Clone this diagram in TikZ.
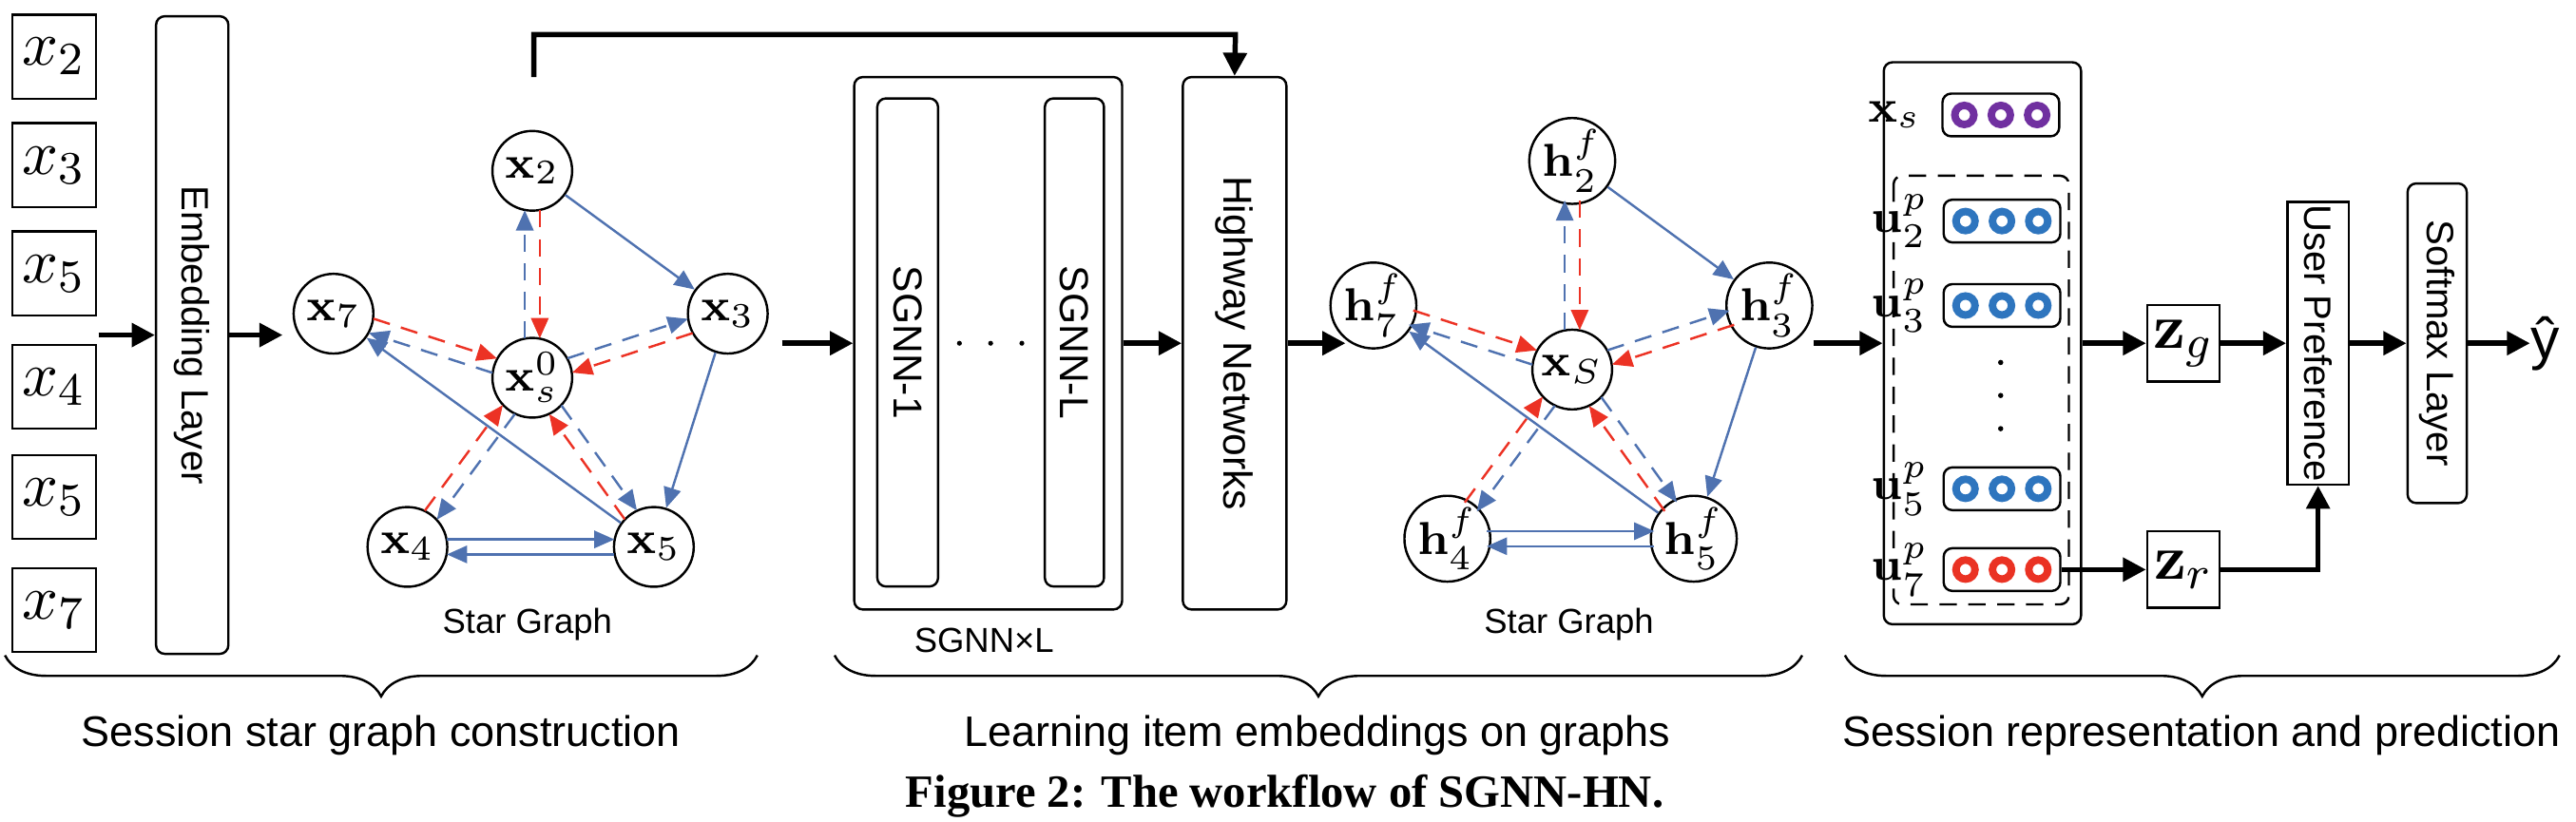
\documentclass[tikz,border=0pt]{standalone}
\usepackage[no-math]{fontspec}
\setmainfont{Liberation Sans}
\newfontfamily\capfont{Liberation Serif}
\usetikzlibrary{arrows.meta,calc,decorations.pathreplacing}

\definecolor{edgeblue}{RGB}{79,114,176}
\definecolor{edgered}{RGB}{236,50,36}
\definecolor{ringpurple}{RGB}{112,48,160}
\definecolor{ringblue}{RGB}{46,117,190}
\definecolor{ringred}{RGB}{234,50,35}

\tikzset{
    item/.style={draw, minimum width=0.51cm, minimum height=0.51cm, inner sep=0pt, font=\fontsize{11}{11}\selectfont},
    layer/.style={draw, rounded corners=1.5pt, inner sep=0pt, font=\fontsize{6}{6}\selectfont},
    plainbox/.style={draw, inner sep=0pt},
    vnode/.style={draw, circle, minimum size=0.485cm, inner sep=0pt, font=\fontsize{8.5}{8.5}\selectfont},
    flow/.style={-{Triangle[length=4pt,width=4pt]}, line width=0.9pt},
    bluearr/.style={edgeblue, densely dashed, line width=0.4pt, -{Triangle[length=3.5pt,width=3pt]}, shorten <=0.24cm, shorten >=0.24cm},
    redarr/.style={edgered, densely dashed, line width=0.4pt, -{Triangle[length=3.5pt,width=3pt]}, shorten <=0.24cm, shorten >=0.24cm},
    pairarr/.style={edgeblue, line width=0.4pt, -{Triangle[length=3.5pt,width=3pt]}, shorten <=0.24cm, shorten >=0.24cm},
    solidarr/.style={edgeblue, line width=0.4pt, -{Triangle[length=3.5pt,width=3pt]}},
    ring/.style={line width=1.3pt},
    bar/.style={draw, rounded corners=1.5pt, minimum width=0.71cm, minimum height=0.26cm, inner sep=0pt},
    grp/.style={decorate, decoration={brace, mirror, amplitude=0.25cm}, line width=0.4pt},
    grplabel/.style={font=\fontsize{7.4}{7.4}\selectfont},
    vlabel/.style={rotate=-90, font=\fontsize{6.6}{6.6}\selectfont},
    small/.style={font=\fontsize{6}{6}\selectfont},
}

% red: node -> centre, blue: centre -> node, side by side
\newcommand\starpair[2]{%
    \draw[redarr] ($(#2)!1.3pt!90:(#1)$) -- ($(#1)!1.3pt!-90:(#2)$);
    \draw[bluearr] ($(#1)!1.3pt!90:(#2)$) -- ($(#2)!1.3pt!-90:(#1)$);}
% three rings inside a bar
\newcommand\rings[2]{%
    \foreach \dx in {-22.2,0,22.1} {\draw[ring,#2] ($(#1)+(\dx,0)$) circle(0.058cm);}}

\begin{document}
\begin{tikzpicture}[x=0.01cm, y=-0.01cm]
    \useasboundingbox (0,0) rectangle (1568,500);

    %% Session star graph construction
    \node[item] (i1) at (33,34.5) {$x_2$};
    \node[item] (i2) at (33,100.5) {$x_3$};
    \node[item] (i3) at (33,166.5) {$x_5$};
    \node[item] (i4) at (33,235.5) {$x_4$};
    \node[item] (i5) at (33,302.5) {$x_5$};
    \node[item] (i6) at (33,371.5) {$x_7$};

    \node[layer, minimum width=0.44cm, minimum height=3.88cm] (emb) at (117,204) {};
    \node[vlabel] at (emb.center) {Embedding Layer};
    \coordinate (in1) at (60,204);
    \coordinate (g1in) at (172,204);
    \draw[flow] (in1) -- (emb.west);
    \draw[flow] (emb.east) -- (g1in);

    % Star graph
    \node[vnode] (x2) at (324,104) {$\mathbf{x}_2$};
    \node[vnode] (x7) at (203,191) {$\mathbf{x}_7$};
    \node[vnode] (x3) at (443,191) {$\mathbf{x}_3$};
    \node[vnode, font=\fontsize{8}{8}\selectfont] (xs) at (324,230) {$\mathbf{x}_s^0$};
    \node[vnode] (x4) at (248,333) {$\mathbf{x}_4$};
    \node[vnode] (x5) at (398,333) {$\mathbf{x}_5$};
    \starpair{xs}{x2}
    \starpair{xs}{x7}
    \starpair{xs}{x3}
    \starpair{xs}{x4}
    \starpair{xs}{x5}
    \draw[solidarr] (x2) -- (x3);
    \draw[solidarr] (x3) -- (x5);
    \draw[solidarr] (x5) -- (x7);
    \draw[pairarr] ($(x4)!1.3pt!90:(x5)$) -- ($(x5)!1.3pt!-90:(x4)$);
    \draw[pairarr] ($(x5)!1.3pt!90:(x4)$) -- ($(x4)!1.3pt!-90:(x5)$);
    \node[small] at (321,380) {Star Graph};

    \draw[grp] (3,399) -- (461,399);
    \node[grplabel] at (232,448) {Session star graph construction};

    %% Learning item embeddings on graphs
    \node[layer, minimum width=1.63cm, minimum height=3.24cm] (sg) at (601.5,209) {};
    \node[layer, minimum width=0.37cm, minimum height=2.97cm] (sg1) at (552.5,208.5) {};
    \node[layer, minimum width=0.36cm, minimum height=2.97cm] (sgl) at (654,208.5) {};
    \node[vlabel, font=\fontsize{7}{7}\selectfont] at (sg1.center) {SGNN-1};
    \node[vlabel, font=\fontsize{7}{7}\selectfont] at (sgl.center) {SGNN-L};
    \foreach \px in {584,603,622} {\fill (\px,209) circle(0.015cm);}
    \node[small] at (599,390) {SGNN×L};

    \node[layer, minimum width=0.63cm, minimum height=3.24cm] (hw) at (751.5,209) {};
    \node[vlabel, font=\fontsize{7}{7}\selectfont] at (hw.center) {Highway Networks};

    \coordinate (g1out) at (476,209);
    \coordinate (fb) at (325,47);
    \coordinate (g2in) at (819,209);
    \draw[flow] (g1out) -- (sg.west);
    \draw[flow] (sg.east) -- (hw.west);
    \draw[flow] (fb) |- (752,21) -- (hw.north);
    \draw[flow] (hw.east) -- (g2in);

    % Star graph
    \node[vnode] (h2) at (957,98) {$\mathbf{h}_2^f$};
    \node[vnode] (h7) at (836,186) {$\mathbf{h}_7^f$};
    \node[vnode] (h3) at (1077,186) {$\mathbf{h}_3^f$};
    \node[vnode] (hs) at (957,225) {$\mathbf{x}_S$};
    \node[vnode] (h4) at (881,328) {$\mathbf{h}_4^f$};
    \node[vnode] (h5) at (1031,328) {$\mathbf{h}_5^f$};
    \starpair{hs}{h2}
    \starpair{hs}{h7}
    \starpair{hs}{h3}
    \starpair{hs}{h4}
    \starpair{hs}{h5}
    \draw[solidarr] (h2) -- (h3);
    \draw[solidarr] (h3) -- (h5);
    \draw[solidarr] (h5) -- (h7);
    \draw[pairarr] ($(h4)!1.3pt!90:(h5)$) -- ($(h5)!1.3pt!-90:(h4)$);
    \draw[pairarr] ($(h5)!1.3pt!90:(h4)$) -- ($(h4)!1.3pt!-90:(h5)$);
    \node[small] at (955,380) {Star Graph};

    \draw[grp] (508,399) -- (1097,399);
    \node[grplabel] at (802,448) {Learning item embeddings on graphs};

    %% Session representation and prediction
    \node[layer, minimum width=1.2cm, minimum height=3.42cm] (rep) at (1206.7,209) {};
    \draw[densely dashed, rounded corners=1.5pt] (1152.6,107) rectangle (1259.3,368);

    \node[bar] (bs) at (1217.9,70) {};
    \node[bar] (b2) at (1218.6,134.6) {};
    \node[bar] (b3) at (1218.6,186) {};
    \node[bar] (b5) at (1218.6,297.6) {};
    \node[bar] (b7) at (1218.6,346.8) {};
    \rings{bs}{ringpurple}
    \rings{b2}{ringblue}
    \rings{b3}{ringblue}
    \rings{b5}{ringblue}
    \rings{b7}{ringred}
    \node[font=\fontsize{8.5}{8.5}\selectfont, left=0pt] at (bs.west) {$\mathbf{x}_s$};
    \node[font=\fontsize{8.5}{8.5}\selectfont, left=-1pt] at (b2.west) {$\mathbf{u}_2^p$};
    \node[font=\fontsize{8.5}{8.5}\selectfont, left=-1pt] at (b3.west) {$\mathbf{u}_3^p$};
    \node[font=\fontsize{8.5}{8.5}\selectfont, left=-1pt] at (b5.west) {$\mathbf{u}_5^p$};
    \node[font=\fontsize{8.5}{8.5}\selectfont, left=-1pt] at (b7.west) {$\mathbf{u}_7^p$};
    \foreach \py in {220.7,240.8,261} {\fill (1217.8,\py) circle(0.016cm);}

    \node[plainbox, minimum width=0.44cm, minimum height=0.465cm, font=\fontsize{11}{11}\selectfont] (zg) at (1329,209) {$\mathbf{z}_g$};
    \node[plainbox, minimum width=0.44cm, minimum height=0.465cm, font=\fontsize{11}{11}\selectfont] (zr) at (1329,346.8) {$\mathbf{z}_r$};
    \node[plainbox, minimum width=0.374cm, minimum height=1.72cm] (up) at (1411,209) {};
    \node[vlabel] at (up.center) {User Preference};
    \node[layer, minimum width=0.36cm, minimum height=1.945cm] (sm) at (1483.5,209) {};
    \node[vlabel] at (sm.center) {Softmax Layer};
    \node[font=\fontsize{10}{10}\selectfont, anchor=west, inner sep=0pt] (yh) at (1540,209) {ŷ};

    \coordinate (g2out) at (1103.9,209);
    \draw[flow] (g2out) -- (rep.west);
    \draw[flow] (rep.east) -- (zg.west);
    \draw[flow] (zg.east) -- (up.west);
    \draw[flow] (up.east) -- (sm.west);
    \draw[flow] (sm.east) -- (yh.west);
    \draw[flow] (b7.east) -- (zr.west);
    \draw[flow] (zr.east) -| (up.south);

    \draw[grp] (1123,399) -- (1558,399);
    \node[grplabel] at (1340,448) {Session representation and prediction};

    % Caption
    \node[font=\capfont\bfseries\fontsize{8}{8}\selectfont] at (782,485) {Figure 2: The workflow of SGNN-HN.};
\end{tikzpicture}
\end{document}
